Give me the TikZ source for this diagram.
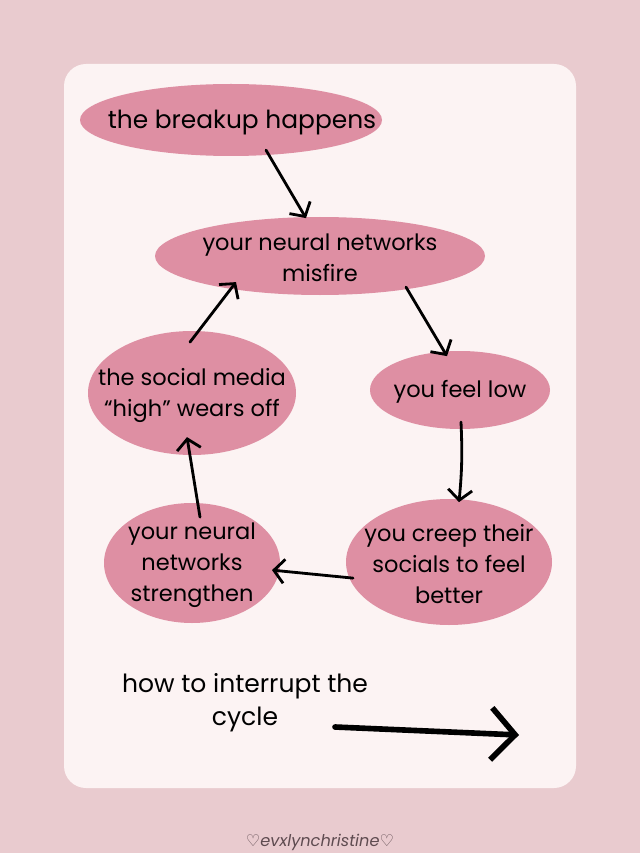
\documentclass[tikz,border=0pt]{standalone}
\usepackage{fontspec}
\setmainfont{Poppins}
\newfontfamily\heartfont{DejaVu Sans}
\usetikzlibrary{arrows.meta,calc}
\definecolor{backpink}{HTML}{E9CBCF}
\definecolor{cardpink}{HTML}{FCF3F3}
\definecolor{bubblepink}{HTML}{DE8FA3}
\definecolor{signgray}{HTML}{5E4B50}
% bubble: name, x, y, rx, ry, text
\newcommand\bubble[6]{%
	\fill[bubblepink] (#2,#3) ellipse ({#4} and {#5});
	\node[lbl] (#1) at (#2,#3) {#6};}
\begin{document}
\begin{tikzpicture}[x=0.025cm,y=-0.025cm, line join=round, line cap=round,
	lbl/.style={align=center, yshift=-1.5pt, font=\fontsize{16}{22}\selectfont},
	arr/.style={-{Straight Barb[length=2.6mm,width=6mm]}, line width=2pt},
	bigarr/.style={-{Straight Barb[length=6mm,width=13mm]}, line width=4pt}]
	\fill[backpink] (0,0) rectangle (640,853);
	\useasboundingbox (0,0) rectangle (640,853);
	\fill[cardpink, rounded corners=0.55cm] (64,64) rectangle (576,788);
	
	\fill[bubblepink] (231,120) ellipse (151 and 36);
	\node[lbl, font=\fontsize{17.7}{22}\selectfont] (breakup) at (242,120) {the breakup happens};
	\bubble{misfire}{320}{256}{165}{39}{your neural networks\\misfire}
	\bubble{social}{192}{393}{104}{62}{the social media\\“high” wears off}
	\bubble{feellow}{460}{390}{90}{39}{you feel low}
	\bubble{creep}{449}{562}{103}{63}{you creep their\\socials to feel\\better}
	\bubble{strengthen}{192}{563}{88}{60}{your neural\\networks\\strengthen}
	
	% the cycle
	\draw[arr] ($(breakup)+(24,28)$) -- ($(misfire)+(-14,-40)$);
	\draw[arr] ($(misfire)+(86,29)$) -- ($(feellow)+(-13,-36)$);
	\draw[arr] ($(feellow)+(1,30)$) to[bend left=4] ($(creep)+(10,-62)$);
	\draw[arr] ($(creep)+(-96,14)$) -- ($(strengthen)+(80,5)$);
	\draw[arr] ($(strengthen)+(8,-48)$) -- ($(social)+(-5,42)$);
	\draw[arr] ($(social)+(-2,-53)$) -- ($(misfire)+(-84,24)$);
	
	\node[lbl, font=\fontsize{17.8}{23.5}\selectfont] (interrupt) at (245,701) {how to interrupt the\\cycle};
	\coordinate (gostart) at (335,727);
	\coordinate (goend) at (519,735);
	\draw[bigarr] (gostart) -- (goend);
	
	\node[text=signgray, font=\fontsize{11.5}{12}\selectfont] (sign) at (320,842)
		{{\heartfont ♡}\textit{evxlynchristine}{\heartfont ♡}};
\end{tikzpicture}
\end{document}
